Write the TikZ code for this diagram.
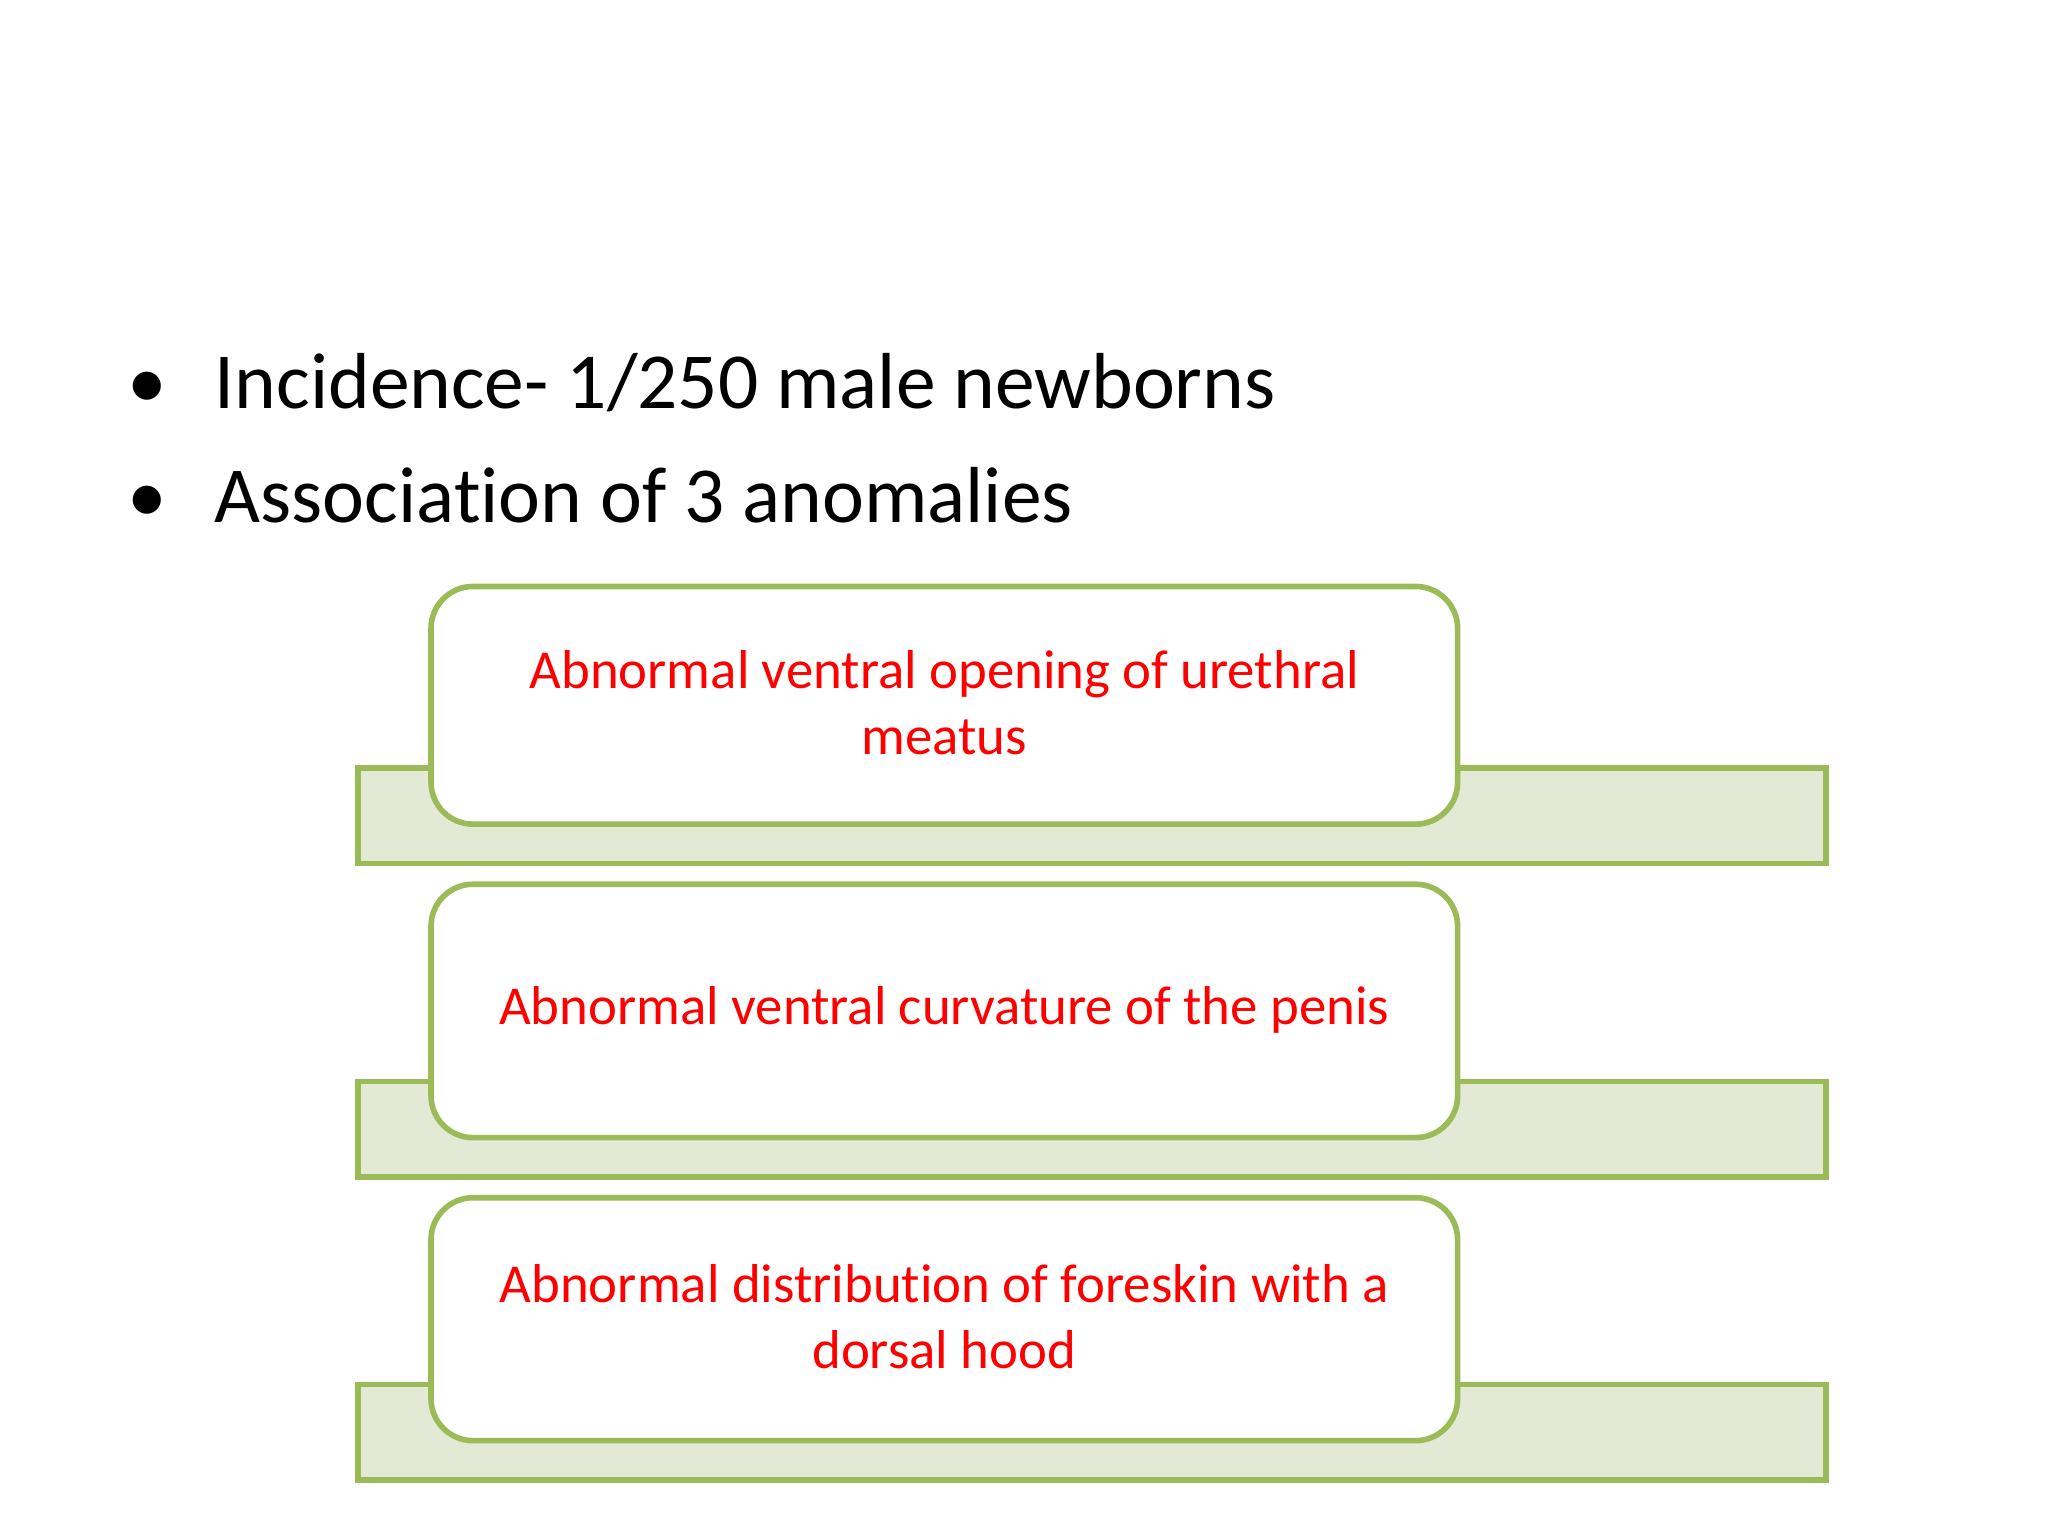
\documentclass[tikz,border=0pt]{standalone}
\usepackage{fontspec}
\setmainfont[Ligatures={NoCommon,NoRare}]{Carlito}
\begin{document}
\begin{tikzpicture}[x=0.01306cm,y=-0.01306cm,
  bar/.style={draw=gbord,fill=gfill,line width=1.6pt},
  card/.style={draw=gbord,fill=white,line width=1.6pt,rounded corners=0.42cm},
  lab/.style={text=red,font=\fontsize{15.6}{18.6}\selectfont,align=center},
  bul/.style={anchor=base west,font=\fontsize{22.6}{27}\selectfont}]
\definecolor{gbord}{HTML}{9BBB59}
\definecolor{gfill}{HTML}{E2EAD6}
\useasboundingbox (0,0) rectangle (1568,1176);
\node[bul] (b1) at (88,313) {\textbullet\hspace{0.48cm}Incidence- 1/250 male newborns};
\node[bul] (b2) at (88,400) {\textbullet\hspace{0.48cm}Association of 3 anomalies};
\draw[bar] (274,588) rectangle (1398,661);
\draw[bar] (274,828) rectangle (1398,901);
\draw[bar] (274,1060) rectangle (1398,1133);
\draw[card] (330,449) rectangle (1116,631);
\draw[card] (330,677) rectangle (1116,871);
\draw[card] (330,917) rectangle (1116,1103);
\node[lab] (t1) at (723,538) {Abnormal ventral opening of urethral\\meatus};
\node[lab] (t2) at (723,773) {Abnormal ventral curvature of the penis};
\node[lab] (t3) at (723,1008) {Abnormal distribution of foreskin with a\\dorsal hood};
\end{tikzpicture}
\end{document}
